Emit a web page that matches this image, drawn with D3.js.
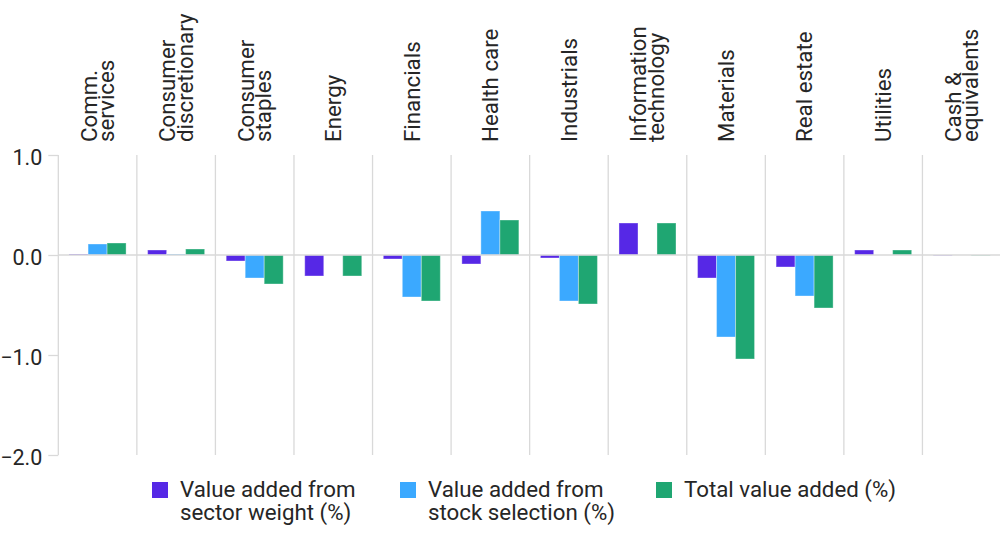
<!DOCTYPE html>
<html>
<head>
<meta charset="utf-8">
<script src="https://cdn.jsdelivr.net/npm/d3@7"></script>
<style>
  html, body { margin: 0; padding: 0; background: #fff; }
  svg { display: block; font-family: Roboto, "Noto Sans", sans-serif; }
</style>
</head>
<body>
<svg id="chart" width="1008" height="536"></svg>
<script>
// ---- data ----
const categories = [
  ["Comm.", "services"],
  ["Consumer", "discretionary"],
  ["Consumer", "staples"],
  ["Energy"],
  ["Financials"],
  ["Health care"],
  ["Industrials"],
  ["Information", "technology"],
  ["Materials"],
  ["Real estate"],
  ["Utilities"],
  ["Cash &", "equivalents"]
];
const sectorWeight   = [0.01, 0.05, -0.06, -0.21, -0.04, -0.09, -0.03, 0.32, -0.23, -0.12, 0.05, -0.005];
const stockSelection = [0.11, 0.01, -0.23, 0.00, -0.42, 0.44, -0.46, 0.00, -0.82, -0.41, 0.00, 0.00];
const totalValue     = [0.12, 0.06, -0.29, -0.21, -0.46, 0.35, -0.49, 0.32, -1.04, -0.53, 0.05, -0.005];
const seriesNames = ["Value added from\nsector weight (%)", "Value added from\nstock selection (%)", "Total value added (%)"];
const seriesColors = ["#5628e6", "#3ba9ff", "#1fa672"];
const yTicks = [1.0, 0.0, -1.0, -2.0];

(function () {
// ---- layout ----
const svg = d3.select("#chart");
const mLeft = 58.3, mRight = 1001, mTop = 155, mBottom = 455;
const catKeys = categories.map(c => c.join(" "));
const x = d3.scaleBand().domain(catKeys).range([mLeft, mRight]).paddingInner(0).paddingOuter(0);
const y = d3.scaleLinear().domain([-2, 1]).range([mBottom, mTop]);
const barW = 19;
const xs = d3.scaleBand().domain([0, 1, 2]).range([0, barW * 3]);
const series = [sectorWeight, stockSelection, totalValue];
const gridColor = "#d9d9d9";
const textColor = "#262626";
const labelSize = 22.3;

// vertical gridlines (band separators) + axis line
const g = svg.append("g");
g.selectAll("line.sep").data(catKeys).enter().append("line")
  .attr("x1", d => x(d)).attr("x2", d => x(d))
  .attr("y1", y(1)).attr("y2", y(-2))
  .attr("stroke", gridColor).attr("stroke-width", 1.3);

// y axis
const yAxis = d3.axisLeft(y).tickValues(yTicks).tickFormat(d3.format(".1f")).tickSize(10).tickPadding(6);
const ya = svg.append("g").attr("transform", `translate(${mLeft},0)`).call(yAxis);
ya.select(".domain").remove();
ya.selectAll(".tick line").attr("stroke", gridColor).attr("stroke-width", 1.3);
ya.selectAll(".tick text").attr("font-size", 21.5).attr("fill", textColor)
  .attr("font-family", "Roboto, sans-serif").attr("dy", "0.42em");

// bars
series.forEach((vals, si) => {
  svg.append("g").selectAll("rect").data(vals).enter().append("rect")
    .attr("x", (d, i) => x(catKeys[i]) + (x.bandwidth() - barW * 3) / 2 + xs(si))
    .attr("width", xs.bandwidth())
    .attr("y", d => Math.min(y(d), y(0)))
    .attr("height", d => Math.abs(y(d) - y(0)))
    .attr("fill", seriesColors[si])
    .attr("stroke", "rgba(255,255,255,0.35)")
    .attr("stroke-width", 1);
});

// zero line
svg.append("line")
  .attr("x1", mLeft).attr("x2", mRight - 1)
  .attr("y1", y(0)).attr("y2", y(0))
  .attr("stroke", gridColor).attr("stroke-width", 1.6);

// category labels (rotated)
const labG = svg.append("g");
categories.forEach((lines, i) => {
  const cx = x(catKeys[i]) + x.bandwidth() / 2;
  const n = lines.length;
  const t = labG.append("text")
    .attr("transform", `translate(${cx},142) rotate(-90)`)
    .attr("font-size", labelSize).attr("fill", textColor);
  lines.forEach((ln, li) => {
    const off = n === 1 ? 7.8 : (li === 0 ? -1 : 16.5);
    t.append("tspan").attr("x", 0).attr("y", off).text(ln);
  });
});

// legend
const legendX = [152, 400, 656];
const leg = svg.append("g");
seriesNames.forEach((name, i) => {
  leg.append("rect")
    .attr("x", legendX[i]).attr("y", 482).attr("width", 16).attr("height", 16)
    .attr("fill", seriesColors[i]);
  const t = leg.append("text").attr("font-size", labelSize).attr("fill", textColor);
  name.split("\n").forEach((ln, li) => {
    t.append("tspan").attr("x", legendX[i] + 28).attr("y", 496.5 + li * 23.5).text(ln);
  });
});
})();
</script>
</body>
</html>
